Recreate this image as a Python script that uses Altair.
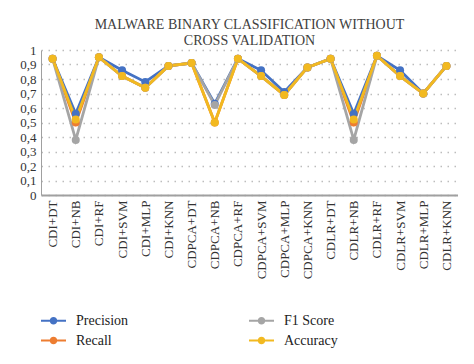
import altair as alt
import pandas as pd

categories = ["CDI+DT", "CDI+NB", "CDI+RF", "CDI+SVM", "CDI+MLP", "CDI+KNN",
              "CDPCA+DT", "CDPCA+NB", "CDPCA+RF", "CDPCA+SVM", "CDPCA+MLP", "CDPCA+KNN",
              "CDLR+DT", "CDLR+NB", "CDLR+RF", "CDLR+SVM", "CDLR+MLP", "CDLR+KNN"]
precision = [0.94, 0.56, 0.95, 0.86, 0.78, 0.89, 0.91, 0.63, 0.94, 0.86, 0.71, 0.88,
             0.94, 0.56, 0.96, 0.86, 0.70, 0.89]
recall = [0.94, 0.50, 0.95, 0.82, 0.74, 0.89, 0.91, 0.50, 0.94, 0.82, 0.69, 0.88,
          0.94, 0.50, 0.96, 0.82, 0.70, 0.89]
f1_score = [0.94, 0.38, 0.95, 0.82, 0.74, 0.89, 0.91, 0.62, 0.94, 0.82, 0.69, 0.88,
            0.94, 0.38, 0.96, 0.82, 0.70, 0.89]
accuracy = [0.94, 0.52, 0.95, 0.82, 0.74, 0.89, 0.91, 0.50, 0.94, 0.82, 0.69, 0.88,
            0.94, 0.52, 0.96, 0.82, 0.70, 0.89]

series_names = ["Precision", "Recall", "F1 Score", "Accuracy"]
series_values = [precision, recall, f1_score, accuracy]
series_colors = ["#4472C4", "#ED7D31", "#A5A5A5", "#F2B920"]
y_ticks = [0, 0.1, 0.2, 0.3, 0.4, 0.5, 0.6, 0.7, 0.8, 0.9, 1]

rows = []
for name, vals in zip(series_names, series_values):
    for c, v in zip(categories, vals):
        rows.append({"model": c, "series": name, "value": v})
df = pd.DataFrame(rows)

FONT = "Liberation Serif"
sym_path = ("M-1.5,-0.12L1.5,-0.12L1.5,0.12L-1.5,0.12Z "
            "M0.45,0A0.45,0.45,0,1,1,-0.45,0A0.45,0.45,0,1,1,0.45,0Z")

scale = alt.Scale(domain=series_names, range=series_colors)
legend = alt.Legend(
    title=None, orient="none", legendX=4, legendY=262, columns=2,
    columnPadding=119, rowPadding=4, symbolType=sym_path, symbolSize=278,
    symbolStrokeWidth=0, labelOffset=14, labelFont=FONT, labelFontSize=14,
    labelColor="#222222", padding=0, symbolOffset=0,
)

x_enc = alt.X("model:N", sort=categories, scale=alt.Scale(type="point", padding=0.5),
              axis=alt.Axis(title=None, labelAngle=-90, labelFont=FONT, labelFontSize=13,
                            labelColor="#333333", labelPadding=5, ticks=False,
                            domainColor="#A0A0A0", domainWidth=2, grid=False))
y_enc = alt.Y("value:Q", scale=alt.Scale(domain=[0, 1], nice=False),
              axis=alt.Axis(title=None, values=y_ticks, labelFont=FONT, labelFontSize=13,
                            labelColor="#333333", labelPadding=5, ticks=False,
                            domainColor="#A0A0A0", domainWidth=1,
                            gridColor="#BDBDBD", gridDash=[1.5, 5.5], gridWidth=1.5,
                            labelExpr="datum.value == 0 ? '0' : (datum.value == 1 ? '1' : replace(format(datum.value, '.1f'), '.', ','))"))

base = alt.Chart(df)
lines = base.mark_line(strokeWidth=2.8).encode(
    x=x_enc, y=y_enc,
    stroke=alt.Stroke("series:N", scale=scale, legend=legend),
    detail="series:N",
)
points = base.mark_point(filled=True, size=64, opacity=1).encode(
    x=x_enc, y=y_enc,
    fill=alt.Fill("series:N", scale=scale, legend=legend),
)

chart = alt.layer(lines, points).properties(
    width=417, height=145,
    title=alt.TitleParams(
        text=["MALWARE BINARY CLASSIFICATION WITHOUT", "CROSS VALIDATION"],
        font=FONT, fontSize=14, fontWeight="normal", color="#404040",
        anchor="middle", lineHeight=16, offset=-4,
    ),
    padding={"left": 11, "top": 10, "right": 0, "bottom": 0},
).configure_view(stroke=None)

chart.save("out.html", embed_options={"renderer": "svg", "actions": False})
